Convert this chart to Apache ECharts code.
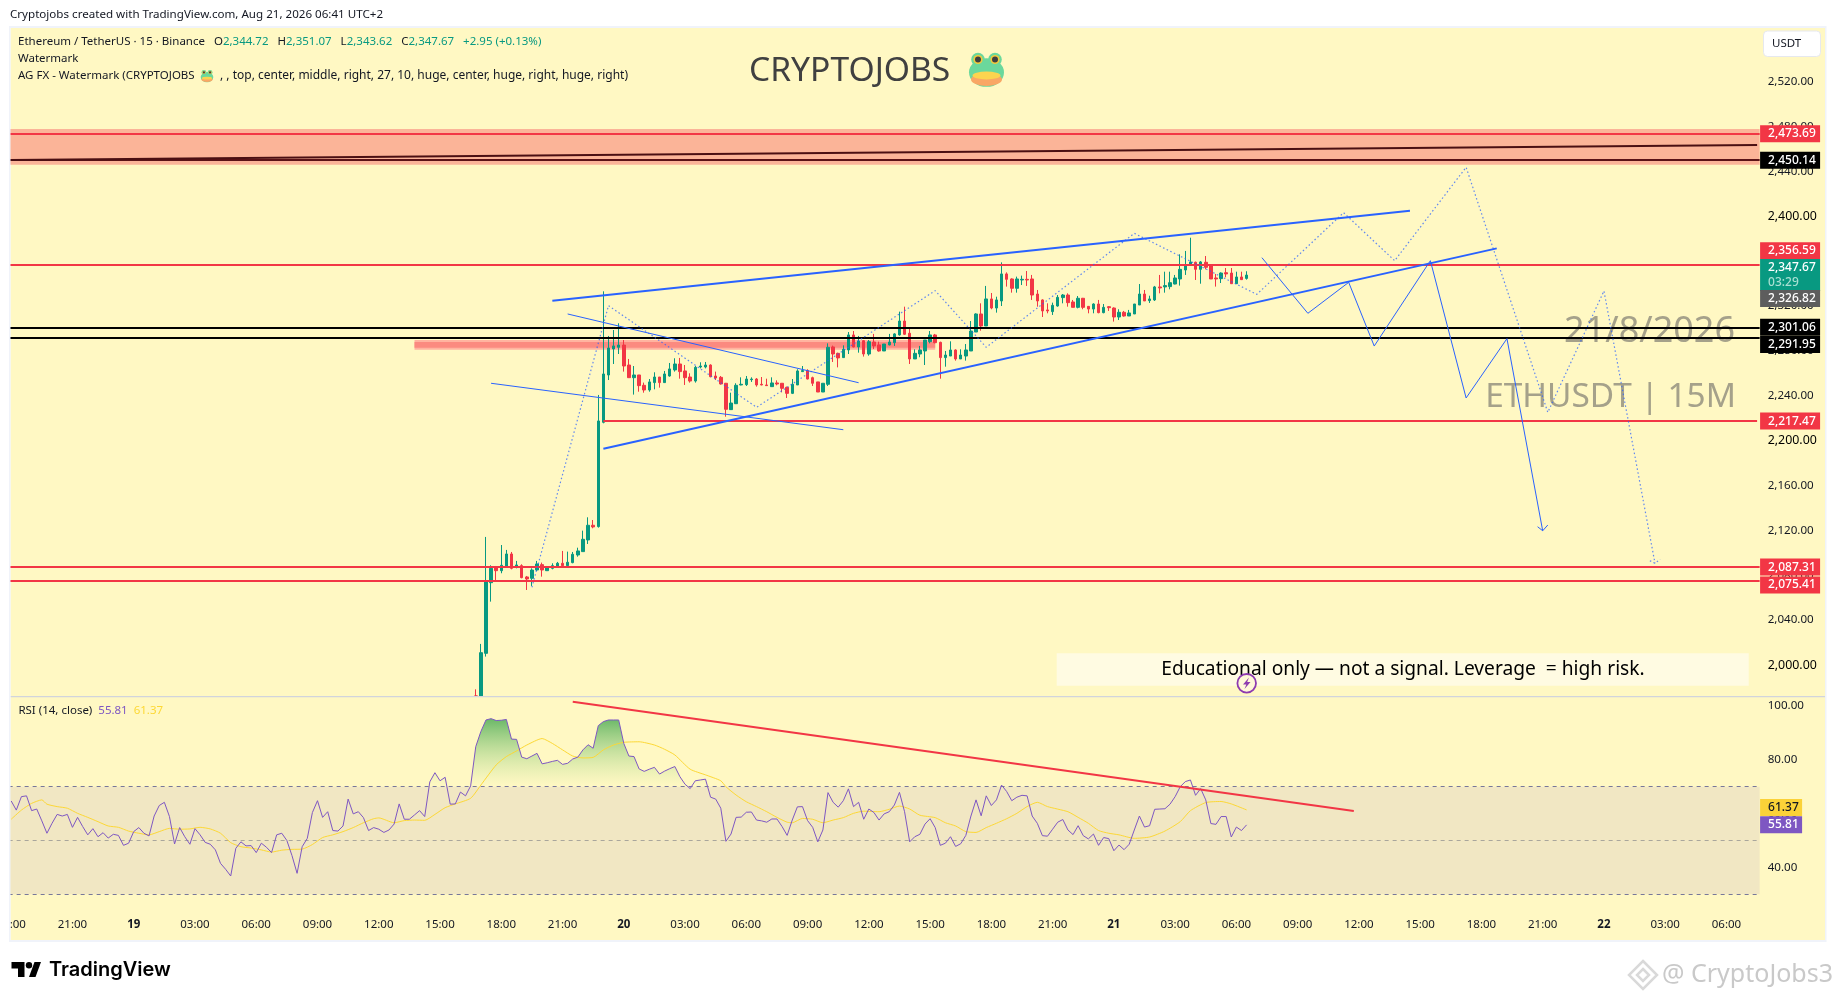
<!DOCTYPE html>
<html><head><meta charset="utf-8"><style>html,body{margin:0;padding:0;background:#fff}#c{width:1835px;height:1000px}</style>
<script src="https://cdn.jsdelivr.net/npm/echarts@6/dist/echarts.min.js"></script></head><body><div id="c"></div>
<script>
const barCount = 343;
const candleStart = 91;
// [open, close, low, high]
const candles = [
[1972.4,1972.4,1972.4,1978.3],[1972.4,2011,1972.4,2018.8],[2010.4,2074.3,2007.5,2114.2],[2073.4,2086.2,2056.5,2088.9],[2087.1,2084.1,2075.8,2088.3],
[2084.1,2088.9,2081.8,2107.0],[2088.3,2099.0,2088.3,2102.6],[2099.0,2086.2,2085.3,2100.8],[2088.3,2089.2,2086.2,2092.8],[2088.6,2077.9,2077.3,2089.8],
[2078.5,2076.7,2066.9,2079.4],[2077.3,2084.7,2070.5,2086.2],[2084.7,2090.1,2083.8,2092.8],[2089.5,2084.7,2078.8,2091.3],[2084.1,2086.8,2083.8,2088.3],
[2086.2,2088.6,2085.3,2090.7],[2088.3,2090.7,2087.7,2091.9],[2090.7,2088.6,2088.3,2101.7],[2088.6,2091.6,2088.3,2101.1],[2091.3,2098.7,2090.7,2100.8],
[2098.1,2101.7,2096.6,2104.6],[2101.1,2112.1,2101.1,2119.8],[2111.5,2124.6,2107.9,2131.7],[2124.6,2123.1,2121.9,2129.3],[2123.4,2217.6,2122.5,2240.8],
[2216.4,2259.5,2215.5,2333.2],[2258.6,2282.7,2254.1,2293.4],[2281.8,2284.5,2268.4,2298.7],[2283.3,2285.3,2277.3,2304.7],[2285.3,2266.6,2261.6,2289.8],
[2267.5,2256.2,2256.2,2272.9],[2256.2,2258.6,2241.1,2266.6],[2258.6,2249.1,2243.7,2258.6],[2249.4,2245.2,2242.8,2251.8],[2245.2,2252.4,2243.7,2255.0],
[2251.8,2256.8,2245.8,2261.0],[2256.8,2251.8,2247.3,2256.8],[2251.8,2259.5,2251.8,2262.2],[2257.7,2264.0,2257.1,2269.3],[2263.1,2268.4,2261.6,2273.5],
[2268.4,2261.6,2255.3,2273.8],[2262.2,2256.2,2249.7,2267.5],[2256.8,2253.2,2251.8,2260.1],[2253.2,2265.4,2251.8,2266.6],[2265.7,2266.6,2264.5,2269.9],
[2265.7,2267.5,2264.5,2270.2],[2267.5,2257.1,2256.5,2268.1],[2257.7,2255.9,2254.1,2261.6],[2256.5,2250.6,2250.0,2257.7],[2251.2,2228.0,2221.4,2251.5],
[2227.7,2233.6,2227.4,2242.8],[2233.0,2249.4,2232.7,2251.2],[2249.7,2250.3,2249.4,2256.5],[2250.0,2255.0,2248.8,2257.7],[2254.4,2255.0,2252.4,2256.5],
[2255.0,2249.7,2248.2,2255.9],[2250.3,2249.7,2249.4,2256.8],[2249.7,2249.1,2248.8,2255.3],[2248.2,2251.5,2248.2,2256.5],[2251.5,2250.6,2249.4,2253.8],
[2251.2,2246.7,2243.1,2251.2],[2247.6,2242.2,2238.1,2248.2],[2242.2,2250.3,2241.6,2255.0],[2249.7,2262.2,2249.7,2263.7],[2261.6,2262.5,2261.3,2266.6],
[2262.5,2255.0,2254.7,2263.7],[2256.2,2251.2,2248.8,2257.1],[2252.4,2243.4,2243.4,2252.4],[2243.4,2251.2,2243.4,2251.2],[2250.3,2283.3,2248.8,2286.8],
[2283.6,2277.3,2270.2,2284.8],[2277.9,2273.8,2265.4,2278.5],[2274.1,2281.5,2273.8,2285.0],[2280.9,2294.3,2277.3,2296.9],[2294.3,2283.6,2283.3,2297.8],
[2283.6,2288.9,2278.5,2293.4],[2289.2,2277.3,2275.0,2289.8],[2277.3,2288.3,2275.8,2289.8],[2288.0,2284.5,2281.8,2295.2],[2285.4,2280.0,2279.4,2288.3],
[2280.0,2286.2,2280.0,2286.2],[2285.4,2288.0,2285.0,2295.2],[2287.4,2295.2,2284.5,2295.8],[2294.3,2306.7,2293.7,2315.1],[2306.7,2294.9,2294.3,2319.5],
[2295.8,2272.9,2268.4,2300.2],[2272.9,2277.9,2272.9,2281.5],[2277.3,2280.9,2274.4,2284.5],[2280.0,2289.8,2267.5,2289.8],[2288.3,2294.3,2286.8,2297.8],
[2294.3,2287.4,2286.8,2295.2],[2287.7,2274.1,2255.3,2288.3],[2274.1,2276.4,2266.0,2280.0],[2275.5,2280.9,2275.5,2288.6],[2280.9,2272.9,2271.4,2281.5],
[2272.9,2276.4,2272.9,2281.5],[2275.5,2280.9,2271.4,2286.2],[2280.0,2297.8,2280.0,2306.7],[2296.9,2313.0,2296.9,2313.6],[2313.0,2302.3,2298.1,2322.5],
[2302.3,2326.4,2302.3,2338.0],[2326.4,2318.3,2317.2,2331.7],[2318.3,2325.5,2314.2,2328.4],[2324.6,2348.7,2320.1,2359.0],[2348.7,2343.9,2337.4,2350.1],
[2344.2,2335.9,2332.0,2344.8],[2335.9,2344.2,2332.0,2346.3],[2343.3,2343.9,2338.8,2347.2],[2343.9,2343.3,2338.0,2351.3],[2344.2,2329.9,2325.5,2347.8],
[2330.8,2324.6,2319.5,2334.4],[2325.5,2315.7,2310.3,2326.1],[2316.6,2315.7,2313.6,2322.5],[2315.1,2320.7,2312.1,2323.1],[2320.1,2327.8,2319.5,2329.9],
[2327.6,2329.9,2322.5,2330.8],[2329.9,2323.1,2319.5,2331.4],[2323.7,2318.9,2318.9,2325.5],[2318.9,2327.0,2318.0,2329.0],[2327.0,2318.9,2317.2,2327.3],
[2319.8,2317.4,2313.6,2320.1],[2317.4,2321.9,2313.6,2322.5],[2321.9,2314.2,2313.6,2325.5],[2314.2,2318.9,2313.6,2321.9],[2319.5,2318.6,2315.7,2320.1],
[2318.3,2310.3,2306.2,2318.9],[2310.3,2314.5,2307.6,2317.2],[2314.5,2311.2,2310.6,2315.7],[2311.2,2313.9,2311.2,2316.6],[2313.0,2321.9,2313.0,2321.9],
[2321.0,2330.8,2321.0,2339.7],[2330.8,2324.6,2324.6,2334.4],[2324.9,2326.4,2322.8,2329.3],[2325.5,2337.1,2324.6,2338.0],[2337.1,2336.2,2331.4,2347.8],
[2337.1,2338.3,2332.0,2350.7],[2337.4,2340.9,2335.0,2350.7],[2339.7,2345.1,2339.4,2347.8],[2344.2,2352.8,2338.3,2366.2],[2352.2,2356.7,2347.8,2369.2],
[2356.4,2359.4,2356.1,2381.0],[2359.1,2352.8,2343.3,2359.7],[2352.8,2359.4,2340.0,2360.2],[2359.1,2354.6,2352.8,2364.7],[2355.8,2344.2,2344.2,2356.1],
[2345.1,2344.2,2337.4,2348.7],[2344.5,2349.5,2340.6,2350.1],[2349.8,2348.7,2345.7,2354.0],[2349.5,2340.0,2340.0,2354.0],[2340.0,2346.0,2339.7,2350.7],
[2346.0,2343.6,2343.3,2350.7],[2344.72,2347.67,2343.62,2351.07]];
const rsiValues = [
64.7,61.3,66.3,66.6,61.1,61.7,57.3,52.7,56.4,59.7,59.1,59.7,54.9,58.6,55.2,52.1,54.4,51.4,52.9,50.9,
52.3,51.9,48.2,49.0,53.3,54.8,52.7,51.7,59.1,63.0,64.2,58.9,48.7,54.8,51.4,48.6,54.4,52.1,49.3,48.6,
46.5,41.5,39.3,36.8,47.1,49.5,48.0,48.1,45.5,49.0,47.5,45.5,52.1,52.7,50.0,44.4,37.8,47.7,50.8,60.4,
64.8,58.6,60.7,53.7,53.5,55.4,65.4,59.9,60.7,58.5,53.7,54.8,54.2,53.0,53.9,56.1,63.6,57.9,57.9,59.5,
61.1,58.9,71.8,75.2,72.2,73.5,63.5,63.6,68.0,66.6,70.3,84.9,90.5,94.8,95.3,94.6,94.7,95.0,87.7,87.6,
81.0,80.4,81.4,82.4,78.5,78.9,79.4,79.8,78.3,78.7,80.3,81.0,83.7,85.6,84.3,92.7,94.2,94.8,94.8,94.8,
86.1,81.4,81.2,
76.6,75.7,76.5,77.2,74.7,75.8,76.7,77.5,73.7,70.9,69.3,72.2,72.5,72.8,66.1,65.4,62.0,49.7,52.4,58.6,
58.7,60.5,60.6,57.6,57.3,56.8,58.0,58.0,55.2,51.9,57.6,62.5,62.6,57.4,54.9,49.5,53.9,67.8,64.2,62.4,
64.8,69.2,62.6,64.2,57.9,61.7,60.4,57.6,59.9,60.7,63.2,67.9,60.7,49.5,51.4,52.3,56.1,58.1,54.8,48.2,
49.0,51.4,47.8,48.8,51.9,59.1,65.1,59.2,66.6,63.0,65.1,70.6,68.2,64.8,66.1,66.8,66.6,59.1,56.4,51.8,
51.6,54.2,56.8,57.8,53.9,52.2,55.5,51.8,50.6,52.4,48.2,51.1,50.7,46.2,48.3,46.6,48.6,53.9,59.1,55.0,
55.5,61.6,61.7,61.8,63.5,66.3,70.0,71.9,72.5,66.8,69.3,65.1,56.3,56.0,58.9,58.9,51.3,55.0,53.7,55.81];
// RSI moving average read at [bar, value]
const rsiMaPoints = [[0,57.9],[2,61.3],[4,63.8],[6,65.1],[7,63.5],[9,62.6],[11,62.0],[13,60.1],[15,58.6],[17,57.0],[19,55.4],[21,54.9],[23,53.5],[25,52.7],[27,52.1],[29,53.3],[31,54.5],[33,54.2],[35,54.3],[37,54.9],[39,54.3],[41,52.7],[43,49.2],[45,47.7],[47,47.2],[49,46.5],[51,45.7],[53,46.4],[55,46.7],[57,46.8],[59,48.5],[61,51.1],[63,52.1],[65,53.3],[67,54.8],[69,56.6],[71,58.1],[72,58.4],[75,56.6],[77,57.4],[79,57.6],[81,57.5],[83,59.7],[85,62.2],[87,63.6],[90,65.7],[92,70.6],[95,78.1],[97,81.2],[99,83.3],[101,85.5],[104,87.9],[106,86.1],[108,83.7],[110,81.4],[112,80.7],[114,80.9],[116,83.7],[118,85.5],[120,86.5],[123,86.7],[126,85.5],[128,83.9],[130,81.8],[133,76.5],[136,74.4],[139,72.2],[140,70.0],[142,66.9],[144,64.4],[146,62.6],[148,60.7],[150,58.6],[152,56.8],[153,56.6],[155,58.2],[157,57.9],[159,56.6],[161,57.6],[163,58.5],[165,60.1],[167,60.9],[170,60.7],[172,61.6],[174,62.8],[176,61.7],[178,59.4],[181,58.5],[183,56.6],[185,55.4],[187,53.3],[189,53.0],[191,54.8],[193,56.4],[195,58.1],[197,60.1],[199,62.6],[201,64.2],[203,62.6],[207,60.7],[209,58.6],[211,56.4],[213,53.7],[215,52.7],[217,52.1],[220,50.8],[223,51.3],[226,53.5],[229,57.0],[231,61.1],[234,64.1],[237,64.5],[239,63.6],[242,61.37]];
const rsiTrend = [[110,101.6],[263,61.0]];
const tickLabels = ['18:00','21:00','19','03:00','06:00','09:00','12:00','15:00','18:00','21:00','20','03:00','06:00','09:00','12:00','15:00','18:00','21:00','21','03:00','06:00','09:00','12:00','15:00','18:00','21:00','22','03:00','06:00'];
const priceTicks = [2000,2040,2080,2120,2160,2200,2240,2280,2320,2360,2400,2440,2480,2520];
const rsiTicks = [40,60,80,100];
const upperChannel = [[106,2324.8],[274,2405.1]];
const lowerChannel = [[116,2192.9],[291,2371.5]];
const thinUpper = [[109,2313.0],[166,2251.7]];
const thinLower = [[94,2251.2],[163,2209.8]];
const pathSolid = [[245,2363.2],[254,2313.6],[262,2341.2],[267,2284.4],[278,2360.5],[285,2238.1],[293,2291.0],[300,2119.7]];
const arrowSolid = [[299,2123.3],[300,2119.7],[301,2124.8]];
const pathDotted = [[102,2069.3],[117,2320.4],[146,2229.8],[181,2333.8],[191,2283.3],[220,2384.9],[244,2330.5],[261,2403.3],[271,2360.5],[285,2443.8],[301,2225.3],[312,2333.5],[322,2090.7]];
const arrowDotted = [[321,2093],[322,2090.7],[323,2094.2]];
const slopedBlack = [[0,2450.3],[342,2463.7]];
const redLevels = [2473.69,2356.59,2087.31,2075.41];
const blackLevels = [2301.06,2291.95];
const partialRed = 2217.47;
const partialRedStart = 116;
const zoneHigh = [2478.0,2446.1];
const pinkOuter = [79,181,2289.8,2281.0];
const pinkInner = [79,181,2288.0,2282.8];
const darkLevel = 2450.14;

const GREEN='#089981', RED='#f23645', BLUE='#2962ff', BG='#fff8c3', INK='#131722';
const FONT='"Noto Sans"';
const categories = Array.from({length:barCount},(_,i)=>'b'+i);
const candleData = categories.map((_,i)=> (i>=candleStart && i-candleStart<candles.length) ? candles[i-candleStart] : ['-','-','-','-']);
const fmt = v => v.toLocaleString('en-US',{minimumFractionDigits:2,maximumFractionDigits:2});
const lastBar = barCount-1;

function tag(value,bg,offset,text){
  return {value:[lastBar,value],label:{backgroundColor:bg,offset:[0,offset||0],formatter:text||fmt(value)}};
}
const priceTagData = [
  tag(2473.69,RED), tag(2450.14,'#000'), tag(2356.59,RED,-14.4),
  {value:[lastBar,2347.67],label:{backgroundColor:GREEN,formatter:'{a|2,347.67}\n{b|03:29}',padding:[1,6,1,8],
    rich:{a:{color:'#fff',fontFamily:FONT,fontSize:12,fontWeight:500,lineHeight:15,width:46},b:{color:'#a8dfd2',fontFamily:FONT,fontSize:12,fontWeight:500,lineHeight:15,width:46}}}},
  tag(2326.82,'#5d5d5d'), tag(2301.06,'#000'), tag(2291.95,'#000',7),
  tag(2217.47,RED), tag(2087.31,RED), tag(2075.41,RED,4.6)
];
const tagLabel = {show:true,position:'right',distance:2.5,color:'#fff',fontFamily:FONT,fontSize:12,fontWeight:500,lineHeight:13,width:46,padding:[2,6,2,8],opacity:1};
const hLine=(y,c,w)=>({yAxis:y,lineStyle:{color:c,width:w,type:'solid'}});
const lineOf=(data,color,width,type,z)=>({type:'line',data,xAxisIndex:0,yAxisIndex:0,showSymbol:false,symbol:'none',silent:true,z:z||6,clip:true,
  lineStyle:{color,width,type:type||'solid'}});

function frog(cx,cy,s){
  const c=(x,y,r,fill,sy)=>({type:'circle',x:cx+x*s,y:cy+y*s,scaleY:sy||1,shape:{r:r*s},style:{fill},z:5,silent:true});
  return [c(-8.5,-10,6.8,'#6bd89c'),c(8.5,-10,6.8,'#6bd89c'),c(0,3,17.5,'#6bd89c',.82),c(0,10,15.5,'#f9a765',.42),c(0,6,14,'#fcd44f',.28),
    c(-8.5,-10,4.6,'#f3c93c'),c(8.5,-10,4.6,'#f3c93c'),c(-8.5,-10,3,'#3f3f3f'),c(8.5,-10,3,'#3f3f3f')];
}
const txt=(x,y,text,o)=>({type:'text',x,y,silent:true,z:(o&&o.z)||1,style:Object.assign({text,fill:INK,font:`12px ${FONT}`,textVerticalAlign:'middle',verticalAlign:'middle'},o||{})});

const graphics=[
 {type:'rect',shape:{x:10.5,y:28,width:1814.5,height:912},style:{fill:BG},z:-5,silent:true},
 {type:'rect',shape:{x:9,y:26,width:1817,height:2},style:{fill:'#f0f3fa'},z:-5,silent:true},
 {type:'rect',shape:{x:9,y:940,width:1817,height:2},style:{fill:'#f0f3fa'},z:-5,silent:true},
 {type:'rect',shape:{x:1825,y:26,width:1.5,height:916},style:{fill:'#f0f3fa'},z:-5,silent:true},
 {type:'rect',shape:{x:10.5,y:696,width:1814.5,height:1.2},style:{fill:'#d1d4dc'},z:8,silent:true},
 {type:'rect',shape:{x:0,y:26,width:9,height:916},style:{fill:'#fff'},z:900,silent:true},
 {type:'rect',shape:{x:9,y:26,width:1.5,height:916},style:{fill:'#f0f3fa'},z:900,silent:true},
 txt(10,15,'Cryptojobs created with TradingView.com, Aug 21, 2026 06:41 UTC+2',{font:`11.6px ${FONT}`}),
 txt(18,42,'Ethereum / TetherUS · 15 · Binance   O{g|2,344.72}   H{g|2,351.07}   L{g|2,343.62}   C{g|2,347.67}   {g|+2.95 (+0.13%)}',{font:`11.5px ${FONT}`,rich:{g:{fill:GREEN,color:GREEN,fontFamily:FONT,fontSize:11.5}}}),
 txt(18,59,'Watermark',{font:`11.5px ${FONT}`}),
 txt(18,76,'AG FX - Watermark (CRYPTOJOBS',{font:`11.5px ${FONT}`}),
 txt(220,76,', , top, center, middle, right, 27, 10, huge, center, huge, right, huge, right)',{font:`12px ${FONT}`}),
 ...frog(207,76,.36),
 txt(749,71,'CRYPTOJOBS',{font:`33.6px ${FONT}`,fill:'#404040'}),
 ...frog(986.5,69.5,1),
 txt(1735,332,'21/8/2026',{font:`36px ${FONT}`,fill:'#a5a18a',align:'right',textAlign:'right'}),
 txt(1736,397,'ETHUSDT | 15M',{font:`33.4px ${FONT}`,fill:'#a5a18a',align:'right',textAlign:'right'}),
 {type:'rect',shape:{x:1056.7,y:653.3,width:692,height:32.4},style:{fill:'#fffbe2'},z:1,silent:true},
 txt(1403,670,'Educational only — not a signal. Leverage  = high risk.',{font:`19.2px ${FONT}`,fill:'#000',align:'center',textAlign:'center',z:3}),
 {type:'circle',shape:{cx:1246.7,cy:683.3,r:9.3},style:{fill:'#fff8d8',stroke:'#8e3bb0',lineWidth:1.8},z:12,silent:true},
 {type:'polygon',shape:{points:[[1249,677.5],[1243,684.5],[1246.3,684.5],[1244.5,689],[1250.5,682],[1247.2,682]]},style:{fill:'#8e3bb0'},z:13,silent:true},
 {type:'rect',shape:{x:1763.5,y:31,width:57,height:25.5,r:4},style:{fill:'#fff',stroke:'#e6e8ee',lineWidth:1},z:20,silent:true},
 txt(1772,44,'USDT',{font:`11.5px ${FONT}`,z:21}),
 txt(18.4,711,'RSI (14, close)  {p|55.81}  {y|61.37}',{font:`11.5px ${FONT}`,z:12,rich:{p:{color:'#7e57c2',fill:'#7e57c2',fontFamily:FONT,fontSize:11.5},y:{color:'#fdd835',fill:'#fdd835',fontFamily:FONT,fontSize:11.5}}}),
 {type:'polygon',shape:{points:[[11.5,962],[24.5,962],[24.5,977],[18,977],[18,968.5],[11.5,968.5]]},style:{fill:'#000'},silent:true},
 {type:'circle',shape:{cx:29,cy:965.2,r:3.2},style:{fill:'#000'},silent:true},
 {type:'polygon',shape:{points:[[41,962],[34.5,962],[29,977],[35.5,977]]},style:{fill:'#000'},silent:true},
 txt(49,970,'TradingView',{font:`600 20px Inter`,fill:'#000'}),
 {type:'polygon',shape:{points:[[1643,961],[1657,975],[1643,989],[1629,975]]},style:{fill:'none',stroke:'#d9d9d9',lineWidth:2.5},silent:true},
 {type:'polygon',shape:{points:[[1643,969],[1649,975],[1643,981],[1637,975]]},style:{fill:'none',stroke:'#d9d9d9',lineWidth:2.5},silent:true},
 txt(1662,975,'@ CryptoJobs3',{font:`25px ${FONT}`,fill:'#c9c9c9'})
];

const option={
 animation:false,
 backgroundColor:'#fff',
 textStyle:{fontFamily:FONT},
 graphic:{elements:graphics},
 grid:[{left:8.65,top:28,width:1751,height:668,containLabel:false,outerBoundsMode:'none'},{left:8.65,top:696,width:1751,height:209,containLabel:false,outerBoundsMode:'none'}],
 xAxis:[
  {type:'category',gridIndex:0,data:categories,boundaryGap:true,axisLine:{show:false},axisTick:{show:false},axisLabel:{show:false},splitLine:{show:false}},
  {type:'category',gridIndex:1,data:categories,boundaryGap:true,axisLine:{show:false},axisTick:{show:false},splitLine:{show:false},
   axisLabel:{show:true,margin:14,color:INK,fontFamily:FONT,fontSize:11.5,interval:i=>i%12===0,hideOverlap:false,
    formatter:(v,i)=>{const t=tickLabels[i/12]; if(t===undefined) return ''; return t.length<3?'{d|'+t+'}':t;},
    rich:{d:{fontWeight:'bold',color:INK,fontFamily:FONT,fontSize:11.5}}}}
 ],
 yAxis:[
  {type:'value',gridIndex:0,position:'right',min:1972.36,max:2567.99,scale:true,axisLine:{show:false},axisTick:{show:false},splitLine:{show:false},
   axisLabel:{customValues:priceTicks,margin:8,color:INK,fontFamily:FONT,fontSize:11.6,
    formatter:v=>(v%200===0)?'{b|'+fmt(v)+'}':fmt(v),rich:{b:{color:'#000',fontFamily:FONT,fontSize:12.4}}}},
  {type:'value',gridIndex:1,position:'right',min:26.02,max:103.72,scale:true,axisLine:{show:false},axisTick:{show:false},splitLine:{show:false},
   axisLabel:{customValues:rsiTicks,margin:8,color:INK,fontFamily:FONT,fontSize:11.6,formatter:v=>fmt(v)}}
 ],
 series:[
  {type:'candlestick',data:candleData,xAxisIndex:0,yAxisIndex:0,barWidth:3,z:3,silent:true,
   itemStyle:{color:GREEN,color0:RED,borderColor:GREEN,borderColor0:RED,borderWidth:1},
   markArea:{silent:true,z:1,data:[
     [{yAxis:zoneHigh[0],itemStyle:{color:'#fbb498',opacity:1}},{yAxis:zoneHigh[1]}],
     [{xAxis:pinkOuter[0],yAxis:pinkOuter[2],itemStyle:{color:'#ffb3a0',opacity:1}},{xAxis:pinkOuter[1],yAxis:pinkOuter[3]}],
     [{xAxis:pinkInner[0],yAxis:pinkInner[2],itemStyle:{color:'#fb8a80',opacity:1}},{xAxis:pinkInner[1],yAxis:pinkInner[3]}]
   ]},
   markLine:{silent:true,symbol:'none',label:{show:false},z:5,data:[
     ...redLevels.map(v=>hLine(v,RED,2)),
     ...blackLevels.map(v=>hLine(v,'#000',2)),
     hLine(darkLevel,'#5a1216',2),
     [{xAxis:partialRedStart,yAxis:partialRed,lineStyle:{color:RED,width:2,type:'solid'}},{xAxis:lastBar,yAxis:partialRed}]
   ]}},
  lineOf(slopedBlack,'#4a0f12',2,'solid',5),
  lineOf(upperChannel,BLUE,2),
  lineOf(lowerChannel,BLUE,2),
  lineOf(thinUpper,BLUE,1),
  lineOf(thinLower,BLUE,1),
  lineOf(pathSolid,BLUE,1),
  lineOf(arrowSolid,BLUE,1),
  lineOf(pathDotted,'rgba(41,98,255,0.75)',1.2,[1.5,2.5]),
  lineOf(arrowDotted,'rgba(41,98,255,0.75)',1.2,[1.5,2.5]),
  {type:'scatter',data:priceTagData,xAxisIndex:0,yAxisIndex:0,symbolSize:1,itemStyle:{color:'rgba(0,0,0,0)',opacity:1},z:100,silent:true,clip:false,label:tagLabel},
  {type:'line',data:rsiValues.map(v=>Math.max(v,70)),xAxisIndex:1,yAxisIndex:1,showSymbol:false,symbol:'none',silent:true,z:3,
   lineStyle:{opacity:0,width:0},
   areaStyle:{origin:70,opacity:1,color:{type:'linear',x:0,y:0,x2:0,y2:1,colorStops:[{offset:0,color:'rgba(106,184,104,1)'},{offset:1,color:'rgba(190,225,150,0)'}]}}},
  {type:'line',data:rsiValues,xAxisIndex:1,yAxisIndex:1,showSymbol:false,symbol:'none',silent:true,z:5,lineStyle:{color:'#7e57c2',width:1},
   markArea:{silent:true,z:1,data:[[{yAxis:70,itemStyle:{color:'#f1e7c3',opacity:1}},{yAxis:30}]]},
   markLine:{silent:true,symbol:'none',label:{show:false},z:2,data:[
     {yAxis:70,lineStyle:{color:'#77779a',width:1,type:[4,4]}},
     {yAxis:50,lineStyle:{color:'#a9a69c',width:1,type:[4,4]}},
     {yAxis:30,lineStyle:{color:'#77779a',width:1,type:[4,4]}}
   ]}},
  {type:'line',data:rsiMaPoints,xAxisIndex:1,yAxisIndex:1,showSymbol:false,symbol:'none',silent:true,z:4,smooth:.2,lineStyle:{color:'#fdd835',width:1}},
  {type:'line',data:rsiTrend,xAxisIndex:1,yAxisIndex:1,showSymbol:false,symbol:'none',silent:true,z:6,clip:false,lineStyle:{color:RED,width:2}},
  {type:'scatter',xAxisIndex:1,yAxisIndex:1,symbolSize:1,itemStyle:{color:'rgba(0,0,0,0)',opacity:1},z:100,silent:true,clip:false,
   data:[{value:[lastBar,61.37],label:{backgroundColor:'#fbd238',color:INK,offset:[0,-2.5],formatter:'61.37'}},
         {value:[lastBar,55.81],label:{backgroundColor:'#7e57c2',color:'#fff',formatter:'55.81'}}],
   label:Object.assign({},tagLabel,{width:26,padding:[2,8,2,8]})}
 ]
};
const chart=echarts.init(document.getElementById('c'),null,{renderer:'canvas'});
chart.setOption(option);
</script></body></html>
